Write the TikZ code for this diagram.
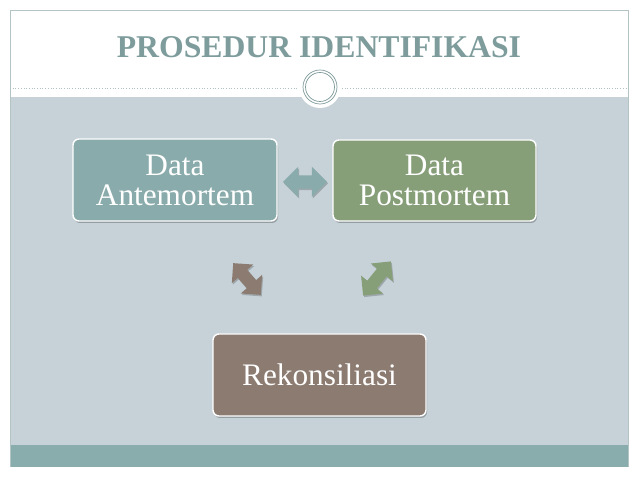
\documentclass[tikz,border=0pt]{standalone}
\usepackage{fontspec}
\setmainfont{Liberation Serif}
\usetikzlibrary{shapes.arrows,shadows}
\definecolor{bodybg}{HTML}{C6D2D8}
\definecolor{bandc}{HTML}{89ACAC}
\definecolor{titlec}{HTML}{7E9C9C}
\definecolor{framec}{HTML}{B4C4C4}
\definecolor{antec}{HTML}{89ABAB}
\definecolor{postc}{HTML}{879F79}
\definecolor{rekc}{HTML}{8C7B70}
\definecolor{ringc}{HTML}{7F9A9A}
\tikzset{
  boxst/.style={draw=white, line width=1.4pt, rounded corners=6pt, text=white,
    align=center, font=\fontsize{31.3}{30}\selectfont, inner sep=0pt,
    drop shadow={shadow xshift=1pt, shadow yshift=-2pt, opacity=0.25, fill=black}},
  dblarrow/.style={double arrow, inner sep=0pt, draw=none,
    drop shadow={shadow xshift=1pt, shadow yshift=-1.5pt, opacity=0.2, fill=black}},
}
\begin{document}
\begin{tikzpicture}[x=1pt,y=-1pt]
\useasboundingbox (0,0) rectangle (638,478);
\fill[white] (0,0) rectangle (638,478);
% slide areas
\fill[bodybg] (10,97) rectangle (628,445);
\fill[bandc] (10,445) rectangle (628,467);
\draw[framec, line width=0.8pt] (10,467) -- (10,10) -- (628,10) -- (628,467);
% dotted separator
\draw[ringc!60, line width=0.7pt, dotted] (10,88) -- (298,88);
\draw[ringc!60, line width=0.7pt, dotted] (342,88) -- (628,88);
% medallion
\fill[white] (320,87) circle (21);
\draw[ringc, line width=0.7pt] (320,87) circle (17);
\draw[ringc, line width=0.7pt] (320,87) circle (14.5);
% title
\node[font=\fontsize{31.7}{32}\selectfont\bfseries, text=titlec] (title) at (319,47) {PROSEDUR IDENTIFIKASI};
% boxes
\node[boxst, fill=antec, minimum width=204pt, minimum height=82pt] (ante) at (175,180) {Data\\Antemortem};
\node[boxst, fill=postc, minimum width=203pt, minimum height=81pt] (post) at (434.5,180.5) {Data\\Postmortem};
\node[boxst, fill=rekc, minimum width=213pt, minimum height=82pt] (rek) at (319.5,375) {Rekonsiliasi};
% double arrows
\node[dblarrow, fill=antec, minimum height=44pt, minimum width=30pt, inner ysep=6.5pt, double arrow head extend=8.5pt] (a1) at (305,182) {};
\node[dblarrow, fill=rekc, minimum height=42pt, minimum width=28pt, inner ysep=6pt, double arrow head extend=8pt, rotate=-49] (a2) at (247,279) {};
\node[dblarrow, fill=postc, minimum height=44pt, minimum width=28pt, inner ysep=6pt, double arrow head extend=8pt, rotate=51] (a3) at (377,278.5) {};
\end{tikzpicture}
\end{document}
